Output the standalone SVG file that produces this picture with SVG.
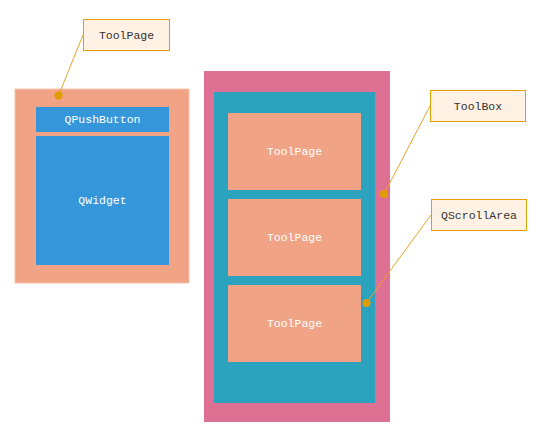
<svg xmlns="http://www.w3.org/2000/svg" width="540" height="437" viewBox="0 0 540 437">
<style>
.page{fill:#F1A385}
.blue{fill:#3597DA}
.wt{fill:#FFFFFF;font-family:"Liberation Mono",monospace;font-size:11.5px;text-anchor:middle;dominant-baseline:central}
.lbl{fill:#FFF2E5;stroke:#E3A000;stroke-width:1}
.lt{fill:#333333;font-family:"Liberation Mono",monospace;font-size:11.5px;text-anchor:middle;dominant-baseline:central}
.ln{stroke:#E8A52A;stroke-width:1;fill:none}
.dot{fill:#E39C00}
</style>
<rect width="540" height="437" fill="#FFFFFF"/>
<g id="left-toolpage">
<rect class="page" x="15" y="89" width="174" height="194" stroke="#F7C3AE" stroke-width="1"/>
</g>
<g id="qpushbutton">
<rect class="blue" x="36" y="107" width="133" height="25"/>
<text class="wt" x="102.5" y="119.5">QPushButton</text>
</g>
<g id="qwidget">
<rect class="blue" x="36" y="136" width="133" height="129"/>
<text class="wt" x="102.5" y="200">QWidget</text>
</g>
<g id="toolbox">
<rect fill="#DE7094" x="204" y="71" width="186" height="351"/>
</g>
<g id="qscrollarea">
<rect fill="#2BA2BE" x="214" y="92" width="161" height="311"/>
</g>
<g id="toolpage1">
<rect class="page" x="228" y="113" width="133" height="77"/>
<text class="wt" x="294.5" y="151.5">ToolPage</text>
</g>
<g id="toolpage2">
<rect class="page" x="228" y="199" width="133" height="77"/>
<text class="wt" x="294.5" y="237.5">ToolPage</text>
</g>
<g id="toolpage3">
<rect class="page" x="228" y="285" width="133" height="77"/>
<text class="wt" x="294.5" y="323.5">ToolPage</text>
</g>
<g id="connectors">
<line class="ln" x1="58.5" y1="95.5" x2="83" y2="35"/>
<line class="ln" x1="384" y1="194" x2="430" y2="106"/>
<line class="ln" x1="366.5" y1="303" x2="431" y2="215"/>
<circle class="dot" cx="58.5" cy="95.5" r="4"/>
<circle class="dot" cx="384" cy="194" r="4"/>
<circle class="dot" cx="366.5" cy="303" r="4"/>
</g>
<g id="label-toolpage">
<rect class="lbl" x="83.5" y="19.5" width="86" height="31"/>
<text class="lt" x="126.5" y="35">ToolPage</text>
</g>
<g id="label-toolbox">
<rect class="lbl" x="430.5" y="90.5" width="95" height="31"/>
<text class="lt" x="478" y="106">ToolBox</text>
</g>
<g id="label-qscrollarea">
<rect class="lbl" x="431.5" y="199.5" width="95" height="31"/>
<text class="lt" x="479" y="215">QScrollArea</text>
</g>
</svg>
